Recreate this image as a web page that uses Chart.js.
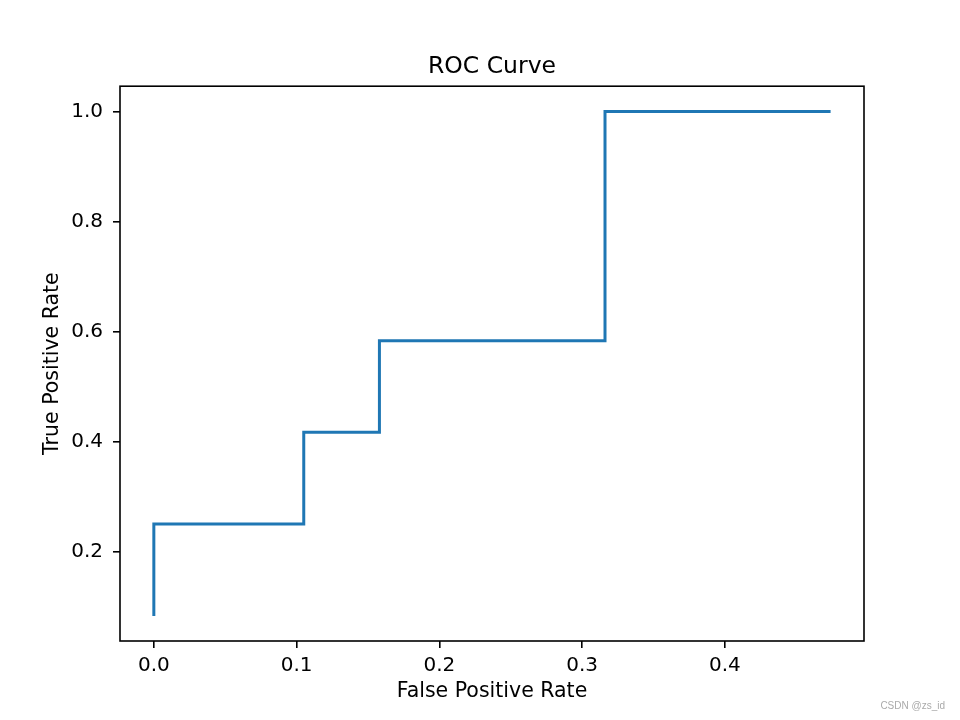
<!DOCTYPE html>
<html>
<head>
<meta charset="utf-8">
<script src="https://cdn.jsdelivr.net/npm/chart.js@4/dist/chart.umd.min.js"></script>
<style>
  html, body { margin: 0; padding: 0; background: #fff; }
  #wrap { width: 960px; height: 720px; }
</style>
</head>
<body>
<div id="wrap"><canvas id="roc" width="960" height="720"></canvas></div>
<script>
// ROC curve points
const fpr = [0.0, 0.0, 0.105, 0.105, 0.158, 0.158, 0.316, 0.316, 0.474];
const tpr = [0.083, 0.25, 0.25, 0.417, 0.417, 0.583, 0.583, 1.0, 1.0];

const xTicks = [0.0, 0.1, 0.2, 0.3, 0.4];
const yTicks = [0.2, 0.4, 0.6, 0.8, 1.0];

const xRange = [-0.0237, 0.4974];
const yRange = [0.0375, 1.0458];

const FONT = 'DejaVu Sans';

// box around plot + small watermark
const frame = {
  id: 'frame',
  afterDraw(chart) {
    const { ctx, chartArea: a } = chart;
    ctx.save();
    ctx.strokeStyle = '#000';
    ctx.lineWidth = 1.6;
    ctx.strokeRect(a.left, a.top, a.right - a.left, a.bottom - a.top);
    ctx.fillStyle = '#aaa';
    ctx.font = '10px "Liberation Sans"';
    ctx.textAlign = 'right';
    ctx.textBaseline = 'middle';
    ctx.fillText('CSDN @zs_id', 945, 706);
    ctx.restore();
  }
};

const tickOpts = (vals) => ({
  afterBuildTicks: s => { s.ticks = vals.map(v => ({ value: v })); }
});

new Chart(document.getElementById('roc'), {
  type: 'scatter',
  data: {
    datasets: [{
      data: fpr.map((x, i) => ({ x, y: tpr[i] })),
      showLine: true,
      borderColor: '#1f77b4',
      borderWidth: 3,
      pointRadius: 0,
      fill: false
    }]
  },
  options: {
    responsive: false,
    animation: false,
    layout: { padding: { left: 0, right: 96, top: 0, bottom: 0 } },
    plugins: {
      legend: { display: false },
      tooltip: { enabled: false },
      title: {
        display: true,
        fullSize: false,
        text: 'ROC Curve',
        color: '#000',
        font: { family: FONT, size: 23.5, weight: 'normal' },
        padding: { top: 53, bottom: 5 }
      }
    },
    scales: {
      x: {
        type: 'linear',
        min: xRange[0],
        max: xRange[1],
        ...tickOpts(xTicks),
        afterFit: s => { s.height = 79; },
        border: { display: false },
        grid: { drawOnChartArea: false, drawTicks: true, tickLength: 7, color: '#000', lineWidth: 1.6 },
        ticks: {
          color: '#000',
          padding: 6,
          maxRotation: 0,
          font: { family: FONT, size: 20 },
          callback: v => v.toFixed(1)
        },
        title: {
          display: true,
          text: 'False Positive Rate',
          color: '#000',
          font: { family: FONT, size: 20.5 },
          padding: { top: 0, bottom: 16 }
        }
      },
      y: {
        type: 'linear',
        min: yRange[0],
        max: yRange[1],
        ...tickOpts(yTicks),
        afterFit: s => { s.width = 120; },
        border: { display: false },
        grid: { drawOnChartArea: false, drawTicks: true, tickLength: 7, color: '#000', lineWidth: 1.6 },
        ticks: {
          color: '#000',
          padding: 10,
          font: { family: FONT, size: 20 },
          callback: v => v.toFixed(1)
        },
        title: {
          display: true,
          text: 'True Positive Rate',
          color: '#000',
          font: { family: FONT, size: 20.5 },
          padding: { top: 40, bottom: 0 }
        }
      }
    }
  },
  plugins: [frame]
});
</script>
</body>
</html>
